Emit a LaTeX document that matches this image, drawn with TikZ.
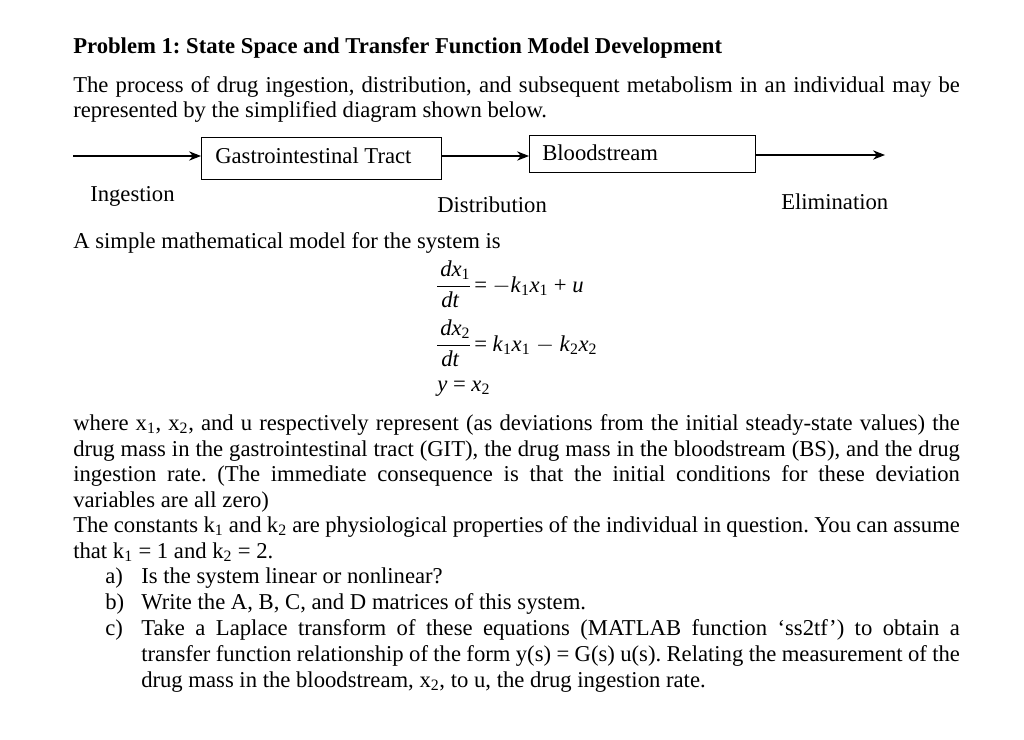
\documentclass[tikz,border=0pt]{standalone}
\usepackage{fontspec}
\setmainfont{Liberation Serif}
\usetikzlibrary{arrows.meta}
\newcommand{\sbx}[1]{\textsubscript{#1}}
\newcommand{\jl}[2]{\makebox[#1pt][s]{#2}}
\frenchspacing
\begin{document}
\begin{tikzpicture}[x=0.75pt,y=-0.75pt,
 txt/.style={anchor=base west,inner sep=0pt,font=\fontsize{17}{20}\selectfont},
 blk/.style={draw,line width=0.8pt,anchor=north west,inner sep=0pt},
 arr/.style={-{Stealth[length=9pt,width=7pt]},line width=0.8pt}]
\useasboundingbox (0,0) rectangle (1024,739);
\node[txt,font=\fontsize{17}{20}\selectfont\bfseries] (t) at (73,53) {Problem 1: State Space and Transfer Function Model Development};
\node[txt] (l1) at (73,92) {\jl{665}{The process of drug ingestion, distribution, and subsequent metabolism in an individual may be}};
\node[txt] (l2) at (73,117) {represented by the simplified diagram shown below.};
\node[blk,minimum width=240*0.75pt,minimum height=42*0.75pt] (g) at (201,137) {};
\node[txt] at (215,163) {Gastrointestinal Tract};
\node[blk,minimum width=226*0.75pt,minimum height=37*0.75pt] (b) at (529,135) {};
\node[txt] at (542,160) {Bloodstream};
\coordinate (s) at (73,156);
\coordinate (e) at (885,155);
\draw[arr] (s) -- (g.west|-s);
\draw[arr] (g.east|-s) -- (b.west|-s);
\draw[arr] (b.east|-e) -- (e);
\node[txt] at (90,201) {Ingestion};
\node[txt] at (437,212) {Distribution};
\node[txt] at (781,209) {Elimination};
\node[txt] (l3) at (73,248) {A simple mathematical model for the system is};
% equations
\node[txt] at (440,276) {\textit{dx}\sbx{1}};
\draw[line width=0.6pt] (437,286) -- (470,286);
\node[txt] at (441,307) {\textit{dt}};
\node[txt] at (474,292) {= $-$\textit{k}\sbx{1}\textit{x}\sbx{1} + \textit{u}};
\node[txt] at (440,335) {\textit{dx}\sbx{2}};
\draw[line width=0.6pt] (437,345) -- (470,345);
\node[txt] at (441,366) {\textit{dt}};
\node[txt] at (474,351) {= \textit{k}\sbx{1}\textit{x}\sbx{1} $-$ \textit{k}\sbx{2}\textit{x}\sbx{2}};
\node[txt] at (437,391) {\textit{y} = \textit{x}\sbx{2}};
\node[txt] at (73,430) {\jl{665}{where x\sbx{1}, x\sbx{2}, and u respectively represent (as deviations from the initial steady-state values) the}};
\node[txt] at (73,456) {\jl{665}{drug mass in the gastrointestinal tract (GIT), the drug mass in the bloodstream (BS), and the drug}};
\node[txt] at (73,481) {\jl{665}{ingestion rate. (The immediate consequence is that the initial conditions for these deviation}};
\node[txt] at (73,507) {variables are all zero)};
\node[txt] at (73,532) {\jl{665}{The constants k\sbx{1} and k\sbx{2} are physiological properties of the individual in question. You can assume}};
\node[txt] at (73,558) {that k\sbx{1} = 1 and k\sbx{2} = 2.};
\node[txt] at (105,583) {a)};
\node[txt] at (141,583) {Is the system linear or nonlinear?};
\node[txt] at (105,609) {b)};
\node[txt] at (141,609) {Write the A, B, C, and D matrices of this system.};
\node[txt] at (105,635) {c)};
\node[txt] at (141,635) {\jl{614}{Take a Laplace transform of these equations (MATLAB function ‘ss2tf’) to obtain a}};
\node[txt] at (141,661) {\jl{614}{transfer function relationship of the form y(s) = G(s) u(s). Relating the measurement of the}};
\node[txt] at (141,687) {drug mass in the bloodstream, x\sbx{2}, to u, the drug ingestion rate.};
\end{tikzpicture}
\end{document}
